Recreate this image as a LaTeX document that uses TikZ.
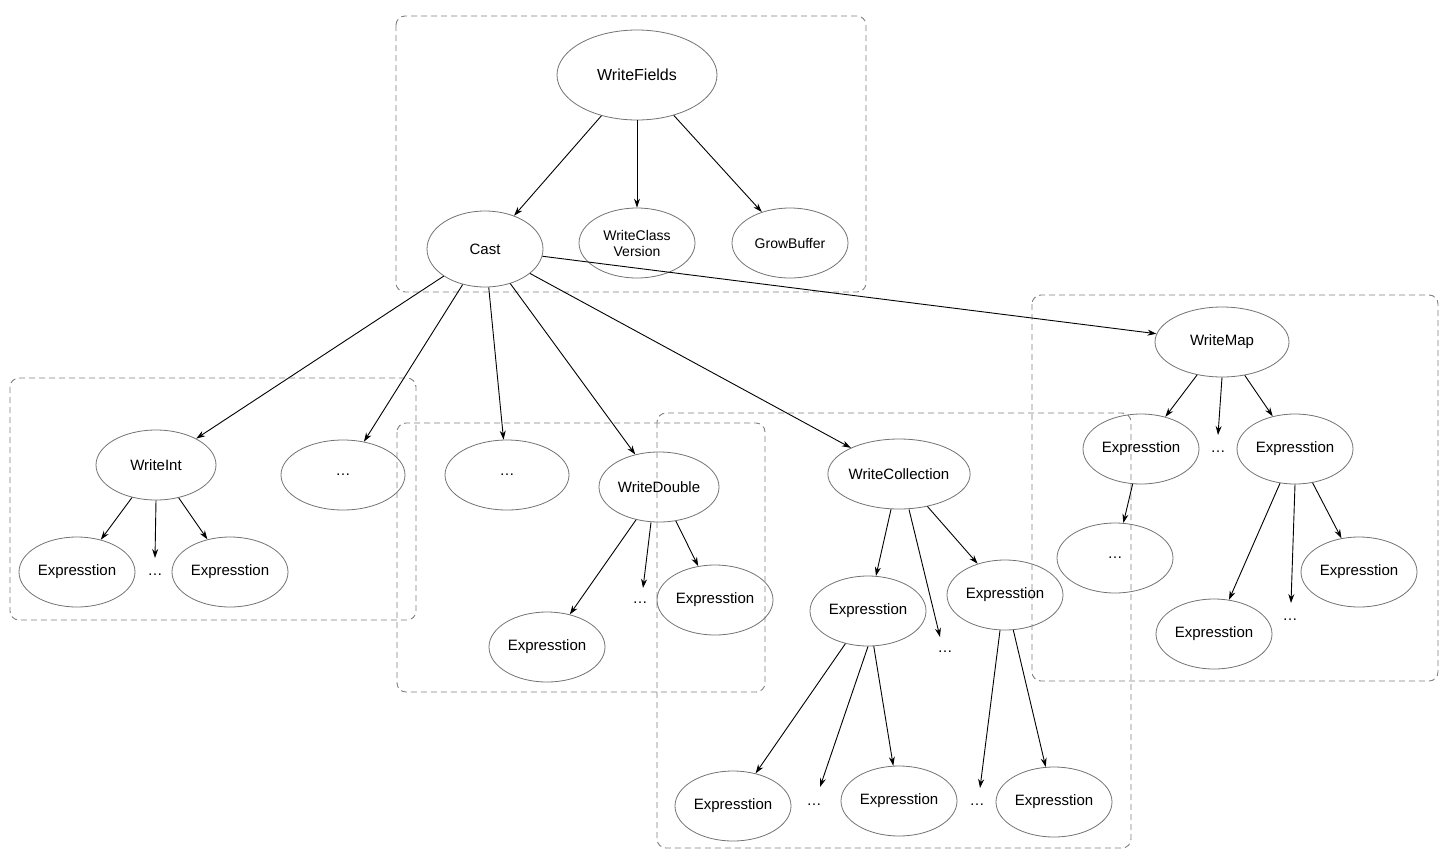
\documentclass[tikz,border=0pt]{standalone}
\usepackage{fontspec}
\setmainfont{Liberation Sans}
\usetikzlibrary{shapes.geometric,arrows.meta}
\begin{document}
\begin{tikzpicture}[x=1pt,y=-1pt,
  el/.style={ellipse,draw=black!55,line width=0.8pt,minimum width=116pt,minimum height=70pt,inner sep=0pt,font=\fontsize{15}{17}\selectfont,align=center},
  ar/.style={-{Stealth[length=9pt,width=6pt]},line width=0.9pt},
  box/.style={draw=black!50,dashed,dash pattern=on 6pt off 4pt,rounded corners=9pt,line width=0.9pt}]
\useasboundingbox (0,0) rectangle (1440,865);
\fill[white] (0,0) rectangle (1440,865);
\draw[box] (396,16) rectangle (866,292);
\draw[box] (1032,295) rectangle (1438,681);
\draw[box] (10,378) rectangle (416,620);
\draw[box] (397,423) rectangle (765,692);
\draw[box] (657,413) rectangle (1131,848);

\node[el,minimum width=160pt,minimum height=90pt,font=\fontsize{16}{18}\selectfont] (wf) at (637,75) {WriteFields};
\node[el,minimum height=76pt] (cast) at (485,249) {Cast};
\node[el,font=\fontsize{14}{16}\selectfont] (wcv) at (637,243) {WriteClass\\Version};
\node[el,font=\fontsize{14}{16}\selectfont] (gb) at (790,243) {GrowBuffer};
\node[el,minimum width=134pt] (wm) at (1222,342) {WriteMap};
\node[el,minimum width=120pt] (wi) at (156,465) {WriteInt};
\node[el,minimum width=124pt] (d1) at (343,475) {\dots};
\node[el,minimum width=124pt] (d2) at (507,475) {\dots};
\node[el,minimum width=120pt] (wd) at (659,487) {WriteDouble};
\node[el,minimum width=134pt] (wc) at (899,474) {WriteCollection};
\node[el] (e1) at (77,572) {Expresstion};
\node[el] (e2) at (230,572) {Expresstion};
\node[el] (e3) at (547,647) {Expresstion};
\node[el] (e4) at (715,600) {Expresstion};
\node[el] (e5) at (868,611) {Expresstion};
\node[el] (e6) at (1005,595) {Expresstion};
\node[el] (e7) at (733,806) {Expresstion};
\node[el] (e8) at (899,801) {Expresstion};
\node[el] (e9) at (1054,802) {Expresstion};
\node[el] (m1) at (1141,449) {Expresstion};
\node[el] (m2) at (1295,449) {Expresstion};
\node[el] (m3) at (1115,558) {\dots};
\node[el] (m4) at (1359,572) {Expresstion};
\node[el] (m5) at (1214,634) {Expresstion};

\foreach \n/\p in {t1/{155,575},t2/{640,603},t3/{945,652},t4/{814,805},t5/{977,805},t6/{1218,452},t7/{1290,620}}
  \node[font=\fontsize{15}{17}\selectfont] (\n) at (\p) {\dots};
\coordinate (c1) at (155,558);
\coordinate (c2) at (643,588);
\coordinate (c3) at (940,637);
\coordinate (c4) at (820,787);
\coordinate (c5) at (980,788);
\coordinate (c6) at (1218,435);
\coordinate (c7) at (1291,603);

\draw[ar] (wf) -- (cast);
\draw[ar] (wf) -- (wcv);
\draw[ar] (wf) -- (gb);
\draw[ar] (cast) -- (wm);
\draw[ar] (cast) -- (wi);
\draw[ar] (cast) -- (d1);
\draw[ar] (cast) -- (d2);
\draw[ar] (cast) -- (wd);
\draw[ar] (cast) -- (wc);
\draw[ar] (wi) -- (e1);
\draw[ar] (wi.south) -- (c1);
\draw[ar] (wi) -- (e2);
\draw[ar] (wd) -- (e3);
\draw[ar] (wd.south) ++(-8,0) -- (c2);
\draw[ar] (wd) -- (e4);
\draw[ar] (wc) -- (e5);
\draw[ar] (wc.south) ++(10,0) -- (c3);
\draw[ar] (wc) -- (e6);
\draw[ar] (e5) -- (e7);
\draw[ar] (e5.south) -- (c4);
\draw[ar] (e5) -- (e8);
\draw[ar] (e6.south) ++(-5,0) -- (c5);
\draw[ar] (e6) -- (e9);
\draw[ar] (wm) -- (m1);
\draw[ar] (wm.south) -- (c6);
\draw[ar] (wm) -- (m2);
\draw[ar] (m1) -- (m3);
\draw[ar] (m2) -- (m5);
\draw[ar] (m2.south) -- (c7);
\draw[ar] (m2) -- (m4);
\end{tikzpicture}
\end{document}
